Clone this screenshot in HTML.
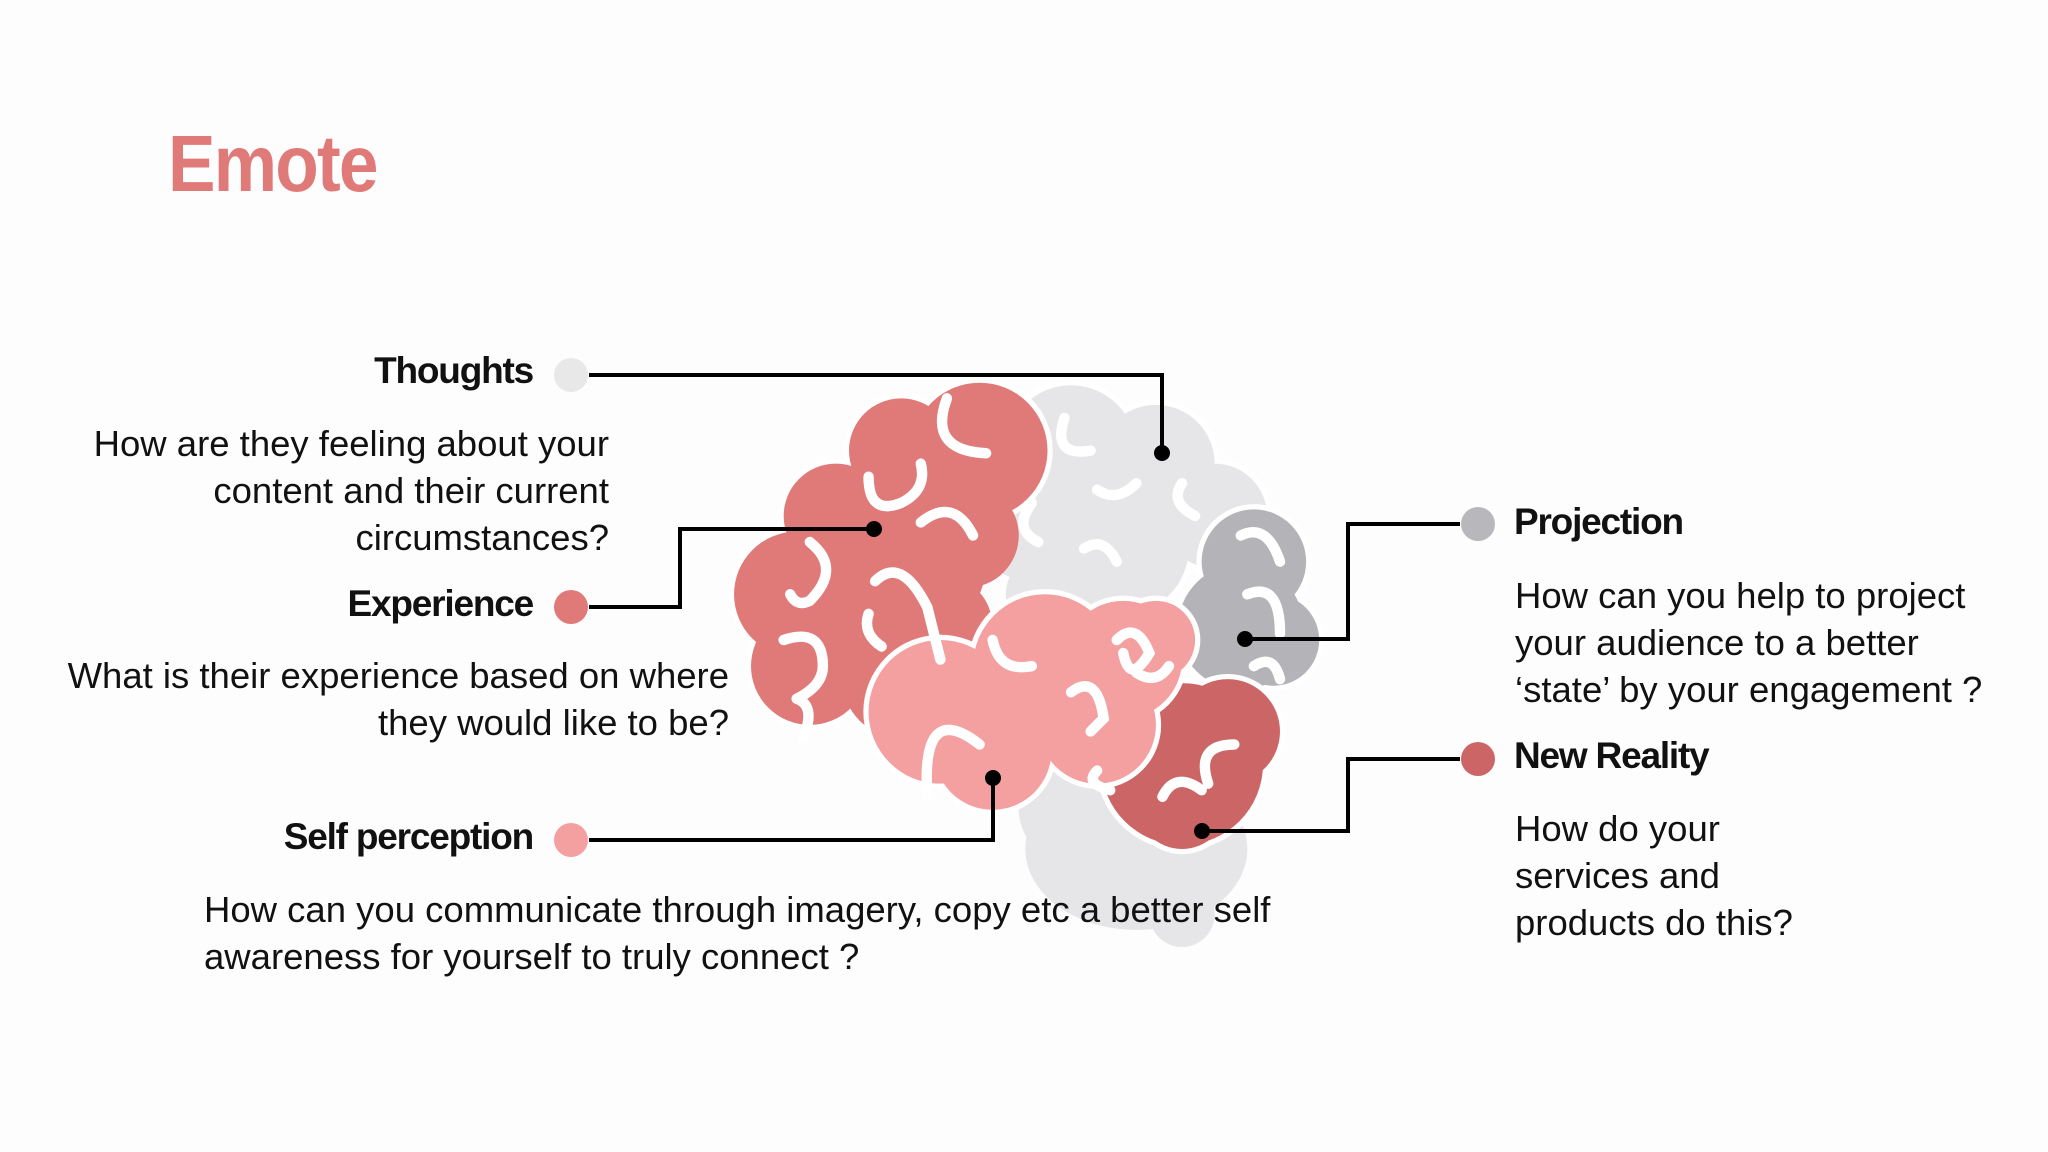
<!DOCTYPE html>
<html><head><meta charset="utf-8"><style>
body{margin:0;width:2048px;height:1152px;background:#fdfdfd;position:relative;overflow:hidden;font-family:"Liberation Sans",sans-serif;}
.t{position:absolute;white-space:nowrap;color:#111;}
.h{font-weight:bold;font-size:37px;letter-spacing:-1.2px;}
.b{font-size:36.5px;line-height:47px;}
.r{text-align:right;}
</style></head><body>
<div class="t" style="left:168px;top:118px;font-size:80px;font-weight:bold;color:#e07a78;letter-spacing:-2px;transform:scaleX(0.89);transform-origin:left top;">Emote</div>

<svg width="2048" height="1152" style="position:absolute;left:0;top:0">
<g transform="scale(1.30612)">
 <g fill="#e6e5e7">
  <ellipse cx="870" cy="650" rx="85" ry="62"/><circle cx="905" cy="700" r="25"/><circle cx="820" cy="620" r="40"/>
 </g>
 <g stroke="#fff" stroke-width="8">
  <g fill="#e6e5e7">
   <circle cx="820" cy="345" r="50"/><circle cx="885" cy="355" r="45"/><circle cx="930" cy="395" r="40"/><circle cx="790" cy="400" r="45"/><circle cx="860" cy="420" r="50"/><circle cx="800" cy="455" r="30"/>
  </g>
 </g>
 <g fill="#e6e5e7"><circle cx="820" cy="345" r="50"/><circle cx="885" cy="355" r="45"/><circle cx="930" cy="395" r="40"/><circle cx="790" cy="400" r="45"/><circle cx="860" cy="420" r="50"/><circle cx="800" cy="455" r="30"/></g>
 <g id="red" fill="#e07a78" stroke="#fff" stroke-width="8">
  <circle cx="750" cy="345" r="52"/><circle cx="690" cy="345" r="40"/><circle cx="640" cy="395" r="40"/><circle cx="610" cy="455" r="48"/><circle cx="620" cy="510" r="45"/><circle cx="690" cy="520" r="45"/>
 </g>
 <g fill="#e07a78"><circle cx="750" cy="345" r="52"/><circle cx="690" cy="345" r="40"/><circle cx="640" cy="395" r="40"/><circle cx="610" cy="455" r="48"/><circle cx="620" cy="510" r="45"/><circle cx="690" cy="520" r="45"/><circle cx="690" cy="430" r="65"/><circle cx="740" cy="410" r="40"/><circle cx="720" cy="480" r="40"/></g>
 <g fill="#b4b3b7" stroke="#fff" stroke-width="8"><circle cx="960" cy="430" r="40"/><circle cx="950" cy="480" r="48"/><circle cx="975" cy="490" r="35"/></g>
 <g fill="#b4b3b7"><circle cx="960" cy="430" r="40"/><circle cx="950" cy="480" r="48"/><circle cx="975" cy="490" r="35"/></g>
 <g fill="#cc6666" stroke="#fff" stroke-width="8"><circle cx="905" cy="585" r="62"/><circle cx="940" cy="560" r="40"/><circle cx="905" cy="615" r="35"/></g>
 <g fill="#cc6666"><circle cx="905" cy="585" r="62"/><circle cx="940" cy="560" r="40"/><circle cx="905" cy="615" r="35"/></g>
 <g fill="#f4a0a0" stroke="#fff" stroke-width="8"><circle cx="720" cy="545" r="55"/><circle cx="800" cy="510" r="55"/><circle cx="860" cy="505" r="45"/><circle cx="885" cy="490" r="30"/><circle cx="760" cy="575" r="45"/><circle cx="840" cy="555" r="45"/></g>
 <g fill="#f4a0a0"><circle cx="720" cy="545" r="55"/><circle cx="800" cy="510" r="55"/><circle cx="860" cy="505" r="45"/><circle cx="885" cy="490" r="30"/><circle cx="760" cy="575" r="45"/><circle cx="840" cy="555" r="45"/></g>
 <g fill="none" stroke="#fff" stroke-width="8" stroke-linecap="round">
  <path d="M725 305 q-15 40 30 42"/><path d="M665 365 q0 30 25 20 q20 -10 15 -30"/><path d="M620 415 q25 20 0 45 q-10 5 -15 -5"/>
  <path d="M705 400 q25 -20 40 10"/><path d="M670 445 q20 -20 40 20 l10 40"/><path d="M665 470 q-5 15 10 25"/>
  <path d="M600 490 q30 -10 30 20 q0 15 -20 25"/><path d="M610 535 q15 5 5 30"/>
  <path d="M815 320 q-10 30 20 25"/><path d="M840 375 q15 10 30 -5"/><path d="M790 385 q-15 20 5 30"/><path d="M830 420 q15 -10 25 10"/>
  <path d="M905 370 q-10 15 10 25"/><path d="M950 410 q20 -10 30 20"/><path d="M955 455 q25 -10 25 30"/><path d="M960 510 q15 -10 20 10"/>
  <path d="M710 610 q-5 -75 40 -40"/><path d="M760 490 q5 25 30 20"/><path d="M820 530 q20 -15 25 20 l-10 10"/><path d="M855 490 q15 -15 25 10 q-15 25 -20 0"/><path d="M870 515 q15 10 25 -5"/>
  <path d="M945 570 q-30 0 -20 30"/><path d="M890 610 q10 -20 30 -5"/><path d="M840 590 q-10 10 10 15"/>
 </g>
</g>
<g stroke="#000" stroke-width="4" fill="none">
 <polyline points="589,375 1162,375 1162,453"/>
 <polyline points="589,607 680,607 680,529 874,529"/>
 <polyline points="589,840 993,840 993,778"/>
 <polyline points="1460,524 1348,524 1348,639 1245,639"/>
 <polyline points="1460,759 1348,759 1348,831 1202,831"/>
</g>
<g fill="#000"><circle cx="1162" cy="453" r="8"/><circle cx="874" cy="529" r="8"/><circle cx="993" cy="778" r="8"/><circle cx="1245" cy="639" r="8"/><circle cx="1202" cy="831" r="8"/></g>
<circle cx="571" cy="375" r="17" fill="#e8e8e9"/>
<circle cx="571" cy="607" r="17" fill="#e07a78"/>
<circle cx="571" cy="840" r="17" fill="#f4a0a0"/>
<circle cx="1478" cy="524" r="17" fill="#b8b8bc"/>
<circle cx="1478" cy="759" r="17" fill="#cc6666"/>
</svg>

<div class="t h r" style="right:1515px;top:350px;">Thoughts</div>
<div class="t b r" style="right:1439px;top:420px;">How are they feeling about your<br>content and their current<br>circumstances?</div>
<div class="t h r" style="right:1515px;top:583px;">Experience</div>
<div class="t b r" style="right:1319px;top:652px;">What is their experience based on where<br>they would like to be?</div>
<div class="t h r" style="right:1515px;top:816px;">Self perception</div>
<div class="t b" style="left:204px;top:886px;">How can you communicate through imagery, copy etc a better self<br>awareness for yourself to truly connect ?</div>
<div class="t h" style="left:1514px;top:501px;">Projection</div>
<div class="t b" style="left:1515px;top:572px;">How can you help to project<br>your audience to a better<br>‘state’ by your engagement ?</div>
<div class="t h" style="left:1514px;top:735px;">New Reality</div>
<div class="t b" style="left:1515px;top:805px;">How do your<br>services and<br>products do this?</div>
</body></html>
